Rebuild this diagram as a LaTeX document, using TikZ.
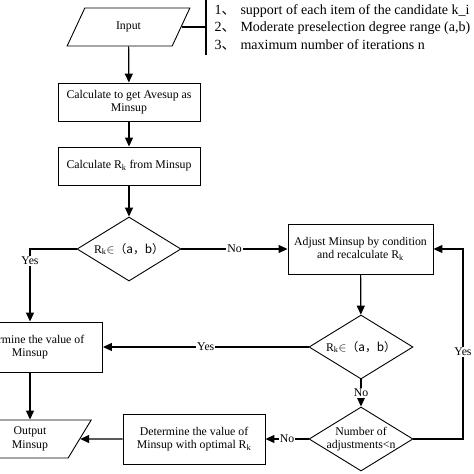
\documentclass[tikz,border=0pt]{standalone}
\usepackage{fontspec}
\setmainfont{Liberation Serif}
\newfontfamily\cjk{Noto Sans CJK SC}
\usetikzlibrary{shapes.geometric,arrows.meta}

\begin{document}
\begin{tikzpicture}[x=1pt, y=-1pt, every node/.style={font=\fontsize{11.8}{13.5}\selectfont},
    procbox/.style={draw, line width=0.9pt, align=center, minimum width=142pt, minimum height=38pt, inner sep=2pt},
    iobox/.style={draw, line width=0.9pt, trapezium, trapezium left angle=66, trapezium right angle=114,
      trapezium stretches=true, minimum width=123pt, minimum height=38pt, align=center, inner sep=1pt},
    decision/.style={draw, line width=0.9pt, diamond, aspect=1.65, minimum width=104pt, minimum height=64pt,
      inner sep=-4pt, align=center},
    flow/.style={line width=1.2pt, -{Triangle[length=9pt,width=8pt]}},
    tag/.style={fill=white, inner sep=1pt}]
    \useasboundingbox (0,0) rectangle (474,474);

    % Eingabe
    \node[iobox] (input) at (128.5,27) {Input};
    \coordinate (brtop) at (206,0);
    \coordinate (brbot) at (206,55);
    \draw[line width=1.2pt] (brtop) -- (brbot);
    \draw[line width=1.2pt] (input.east) -- (input.east -| brtop);
    \node[anchor=west, align=left, font=\fontsize{14}{17.5}\selectfont] (params) at (211,27)
      {1{\cjk 、}\hspace{5pt}support of each item of the candidate k\_i\\
       2{\cjk 、}\hspace{5pt}Moderate preselection degree range (a,b)\\
       3{\cjk 、}\hspace{5pt}maximum number of iterations n};

    % Hauptzweig
    \node[procbox] (avesup) at (129,102) {Calculate to get Avesup as\\Minsup};
    \node[procbox] (calcrk) at (129,166) {Calculate R$_\mathrm{k}$ from Minsup};
    \node[decision] (inrange) at (129,249) {R$_\mathrm{k}$$\in${\cjk （a，b）}};
    \node[procbox, minimum width=145pt, minimum height=50pt] (fixed) at (30,347) {Determine the value of\\Minsup};
    \node[iobox] (output) at (30,439) {Output\\Minsup};

    % Anpassungsschleife
    \node[procbox, minimum width=145pt, minimum height=50pt] (adjust) at (360.5,249) {Adjust Minsup by condition\\and recalculate R$_\mathrm{k}$};
    \node[decision] (recheck) at (361,347) {R$_\mathrm{k}$$\in${\cjk （a，b）}};
    \node[decision] (count) at (361,439) {Number of\\adjustments<n};
    \node[procbox, minimum height=50pt] (optimal) at (194,439) {Determine the value of\\Minsup with optimal R$_\mathrm{k}$};
    \coordinate (loopback) at (463,439);

    % Pfeile
    \draw[flow] (input) -- (avesup);
    \draw[flow] (avesup) -- (calcrk);
    \draw[flow] (calcrk) -- (inrange);
    \draw[flow] (inrange) -- node[tag] {No} (adjust);
    \draw[flow] (inrange.west) -| node[tag, pos=0.58] {Yes} (fixed.north);
    \draw[flow] (adjust) -- (recheck);
    \draw[flow] (recheck) -- node[tag] {Yes} (fixed);
    \draw[flow] (recheck) -- node[tag] {No} (count);
    \draw[flow] (count) -- node[tag] {No} (optimal);
    \draw[flow] (optimal) -- (output);
    \draw[flow] (fixed) -- (output);
    \draw[flow] (count.east) -- (loopback) |- node[tag, pos=0.23] {Yes} (adjust.east);
\end{tikzpicture}
\end{document}
